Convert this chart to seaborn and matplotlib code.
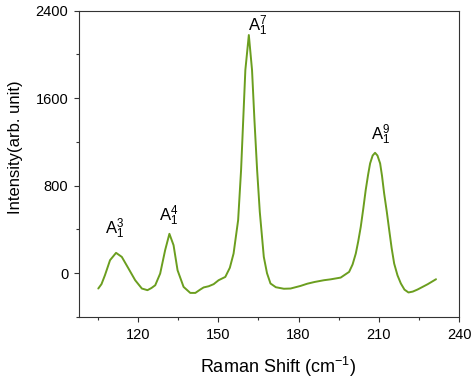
import numpy as np
import pandas as pd
import matplotlib
matplotlib.use("Agg")
import matplotlib.pyplot as plt
import seaborn as sns

# Raman spectrum
shift = [105.1, 106.3, 107.6, 109.5, 111.75, 113.9, 116.4, 118.9, 121.4, 123.5,
         125.0, 126.4, 128.25, 130.1, 131.7, 133.25, 134.75, 137.0, 139.5, 141.4,
         143.25, 144.5, 146.4, 148.25, 150.1, 152.6, 154.3, 155.7, 157.4, 158.5,
         159.3, 160.1, 161.4, 162.6, 163.5, 164.5, 165.5, 167.0, 168.2, 169.5,
         171.5, 174.5, 177.0, 180.75, 183.25, 186.0, 189.5, 192.0, 195.75, 198.9,
         200.2, 201.4, 202.3, 203.25, 204.2, 205.1, 206.0, 206.75, 207.7, 208.6,
         209.5, 210.5, 211.2, 212.0, 213.0, 213.9, 214.8, 215.75, 217.0, 218.25,
         219.6, 221.1, 222.7, 224.5, 228.25, 231.4]
intensity = [-140, -100, -18, 119, 186, 149, 43, -64, -140, -155,
             -135, -110, -3, 210, 360, 256, 27, -125, -180, -180,
             -149, -130, -119, -100, -64, -34, 50, 180, 485, 942,
             1399, 1856, 2176, 1856, 1399, 942, 560, 149, 0, -94,
             -128, -142, -140, -116, -96, -80, -64, -56, -40, 12,
             80, 180, 290, 423, 590, 759, 900, 1003, 1075, 1100,
             1075, 1003, 890, 729, 560, 393, 230, 88, -20, -94,
             -150, -176, -168, -149, -101, -55]

peak_labels = [r"$\mathrm{A}_1^3$", r"$\mathrm{A}_1^4$", r"$\mathrm{A}_1^7$", r"$\mathrm{A}_1^9$"]
label_x = [111.1, 131.6, 164.8, 210.6]
label_y = [290, 410, 2150, 1150]

df = pd.DataFrame({"shift": shift, "intensity": intensity})

sns.set_style("ticks")
plt.rcParams["font.family"] = ["Liberation Sans", "DejaVu Sans"]
plt.rcParams["mathtext.fontset"] = "custom"
plt.rcParams["mathtext.rm"] = "Liberation Sans"
plt.rcParams["mathtext.it"] = "Liberation Sans:italic"
plt.rcParams["text.color"] = "black"
plt.rcParams["xtick.color"] = "black"
plt.rcParams["ytick.color"] = "black"
plt.rcParams["axes.labelcolor"] = "black"

fig = plt.figure(figsize=(4.74, 3.81), dpi=100)
ax = fig.add_axes([0.1667, 0.168, 0.8017, 0.8044])

sns.lineplot(data=df, x="shift", y="intensity", color="#6b9e1f", linewidth=1.4, ax=ax)

for lab, lx, ly in zip(peak_labels, label_x, label_y):
    ax.text(lx, ly, lab, ha="center", va="bottom", fontsize=12, color="black")

ax.set_xlim(97.9, 240)
ax.set_ylim(-400, 2400)
ax.set_xticks([120, 150, 180, 210, 240])
ax.set_xticks([105, 135, 165, 195, 225], minor=True)
ax.set_yticks([0, 800, 1600, 2400])
ax.set_yticks([-400, 400, 1200, 2000], minor=True)
ax.tick_params(which="major", length=3.6, width=0.8, labelsize=10.5, pad=4, color="#333333")
ax.tick_params(which="minor", length=2.2, width=0.8, color="#333333")

for sp in ax.spines.values():
    sp.set_color("#333333")
    sp.set_linewidth(0.8)
    sp.set_visible(True)

ax.set_xlabel("Raman Shift (cm$^{-1}$)", fontsize=13)
ax.set_ylabel("Intensity(arb. unit)", fontsize=12)
ax.xaxis.set_label_coords(0.524, -0.124)
ax.yaxis.set_label_coords(-0.148, 0.555)

plt.savefig("out.png", dpi=100)
